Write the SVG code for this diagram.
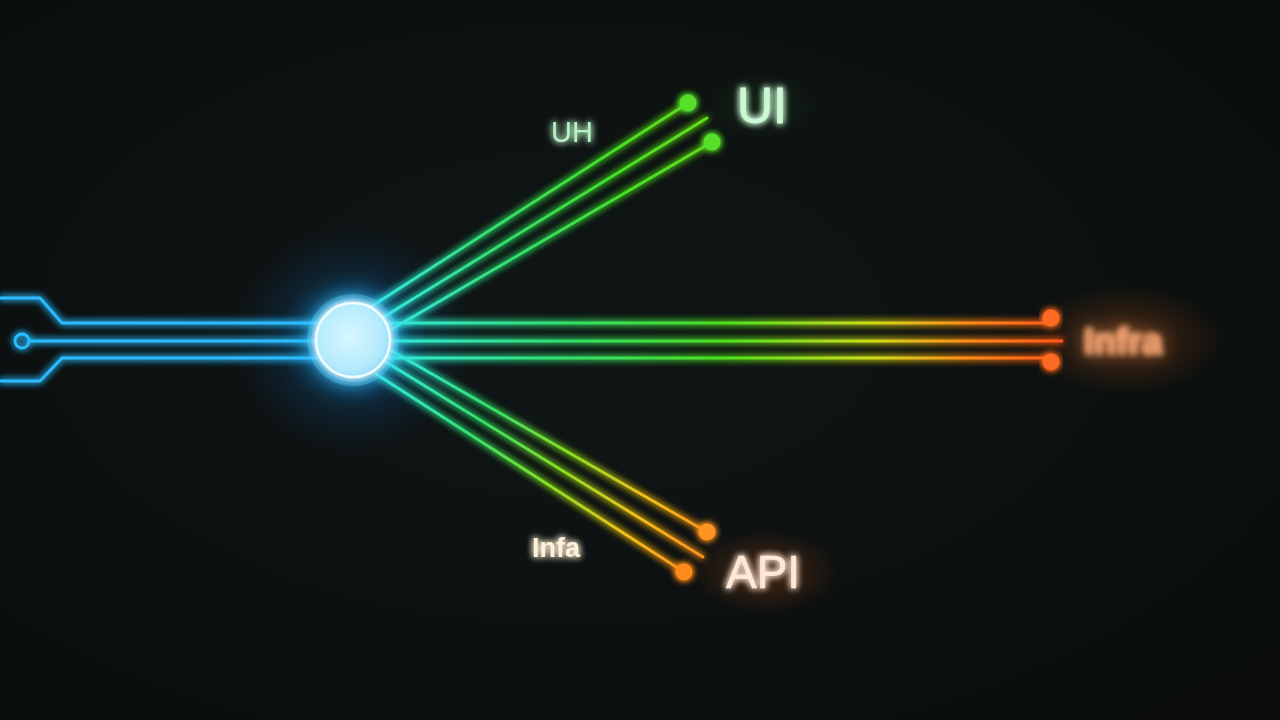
<svg xmlns="http://www.w3.org/2000/svg" width="1280" height="720" viewBox="0 0 1280 720">
  <defs>
    <radialGradient id="bg" cx="0.45" cy="0.45" r="0.75">
      <stop offset="0" stop-color="#101616"/>
      <stop offset="1" stop-color="#0a0c0c"/>
    </radialGradient>
    <radialGradient id="hubHalo" cx="0.5" cy="0.5" r="0.5">
      <stop offset="0" stop-color="#30c0ff" stop-opacity="1"/>
      <stop offset="0.3" stop-color="#1898f0" stop-opacity="0.6"/>
      <stop offset="0.6" stop-color="#0c5a98" stop-opacity="0.22"/>
      <stop offset="1" stop-color="#0a4070" stop-opacity="0"/>
    </radialGradient>
    <radialGradient id="hubFill" cx="0.45" cy="0.45" r="0.6">
      <stop offset="0" stop-color="#d8f7ff"/>
      <stop offset="0.75" stop-color="#b4eafc"/>
      <stop offset="1" stop-color="#90daf6"/>
    </radialGradient>
    <radialGradient id="orangeHalo" cx="0.5" cy="0.5" r="0.5">
      <stop offset="0" stop-color="#ff6a10" stop-opacity="0.25"/>
      <stop offset="1" stop-color="#ff6a10" stop-opacity="0"/>
    </radialGradient>
    <radialGradient id="greenHalo" cx="0.5" cy="0.5" r="0.5">
      <stop offset="0" stop-color="#30c030" stop-opacity="0.12"/>
      <stop offset="1" stop-color="#30c030" stop-opacity="0"/>
    </radialGradient>
    <linearGradient id="gH" gradientUnits="userSpaceOnUse" x1="385" y1="0" x2="1062" y2="0">
      <stop offset="0" stop-color="#30e8e0"/>
      <stop offset="0.25" stop-color="#30e070"/>
      <stop offset="0.5" stop-color="#4ee020"/>
      <stop offset="0.72" stop-color="#d0dc18"/>
      <stop offset="0.86" stop-color="#ff8c18"/>
      <stop offset="1" stop-color="#ff5418"/>
    </linearGradient>
    <linearGradient id="gUp" gradientUnits="userSpaceOnUse" x1="380" y1="315" x2="705" y2="110">
      <stop offset="0" stop-color="#30e8e8"/>
      <stop offset="0.35" stop-color="#30e070"/>
      <stop offset="0.7" stop-color="#44e028"/>
      <stop offset="1" stop-color="#66dc18"/>
    </linearGradient>
    <linearGradient id="gDn" gradientUnits="userSpaceOnUse" x1="380" y1="365" x2="705" y2="565">
      <stop offset="0" stop-color="#30e8e8"/>
      <stop offset="0.3" stop-color="#30e068"/>
      <stop offset="0.55" stop-color="#8ce020"/>
      <stop offset="0.78" stop-color="#f4c018"/>
      <stop offset="1" stop-color="#ff8a1c"/>
    </linearGradient>
    <filter id="glow" x="-20%" y="-20%" width="140%" height="140%">
      <feGaussianBlur in="SourceGraphic" stdDeviation="3.5" result="b"/>
      <feMerge><feMergeNode in="b"/><feMergeNode in="b"/><feMergeNode in="SourceGraphic"/></feMerge>
    </filter>
    <filter id="glowBig" x="-50%" y="-50%" width="200%" height="200%">
      <feGaussianBlur in="SourceGraphic" stdDeviation="7" result="b"/>
      <feMerge><feMergeNode in="b"/><feMergeNode in="SourceGraphic"/></feMerge>
    </filter>
    <filter id="soft" x="-30%" y="-60%" width="160%" height="220%">
      <feGaussianBlur in="SourceGraphic" stdDeviation="3" result="b"/>
      <feGaussianBlur in="SourceGraphic" stdDeviation="9" result="c"/>
      <feMerge><feMergeNode in="c"/><feMergeNode in="b"/><feMergeNode in="b"/></feMerge>
    </filter>
  </defs>
  <style>
    .wire { fill: none; stroke-width: 2.8; stroke-linecap: round; stroke-linejoin: round; }
    .cyan { stroke: #2cbcff; }
    .lbl { font-family: "Liberation Sans", "DejaVu Sans", sans-serif; }
  </style>

  <rect x="0" y="0" width="1280" height="720" fill="url(#bg)"/>

  <!-- halos -->
  <ellipse cx="353" cy="340" rx="120" ry="115" fill="url(#hubHalo)"/>
  <ellipse cx="1125" cy="340" rx="100" ry="55" fill="url(#orangeHalo)"/>
  <ellipse cx="765" cy="572" rx="75" ry="42" fill="url(#orangeHalo)"/>
  <ellipse cx="762" cy="105" rx="60" ry="35" fill="url(#greenHalo)"/>

  <g id="connectors" filter="url(#glow)">
    <!-- left input wires -->
    <polyline class="wire cyan" points="0,298 40,298 62,323 318,323"/>
    <line class="wire cyan" x1="30" y1="341" x2="316" y2="341"/>
    <polyline class="wire cyan" points="0,381 40,381 62,358 318,358"/>
    <circle cx="22" cy="341" r="7" fill="none" stroke="#2cbcff" stroke-width="2.8"/>

    <!-- horizontal to Infra -->
    <line class="wire" stroke="url(#gH)" x1="388" y1="323" x2="1046" y2="323"/>
    <line class="wire" stroke="url(#gH)" x1="390" y1="341" x2="1062" y2="341"/>
    <line class="wire" stroke="url(#gH)" x1="388" y1="358" x2="1046" y2="358"/>

    <!-- upper to UI -->
    <line class="wire" stroke="url(#gUp)" x1="372" y1="306" x2="688" y2="103"/>
    <line class="wire" stroke="url(#gUp)" x1="382" y1="318" x2="707" y2="118"/>
    <line class="wire" stroke="url(#gUp)" x1="392" y1="329" x2="712" y2="142"/>

    <!-- lower to API -->
    <line class="wire" stroke="url(#gDn)" x1="392" y1="351" x2="707" y2="532"/>
    <line class="wire" stroke="url(#gDn)" x1="386" y1="362" x2="703" y2="557"/>
    <line class="wire" stroke="url(#gDn)" x1="376" y1="374" x2="684" y2="572"/>
  </g>

  <g id="hub">
    <circle cx="353" cy="340" r="46" fill="#48d0ff" opacity="0.55" filter="url(#glowBig)"/>
    <circle cx="353" cy="340" r="37" fill="url(#hubFill)" stroke="#eefcff" stroke-width="2.5" filter="url(#glow)"/>
  </g>

  <g id="node-ui">
    <g filter="url(#glow)">
      <circle cx="688" cy="103" r="8.5" fill="#56e02a"/>
      <circle cx="712" cy="142" r="8.5" fill="#56e02a"/>
    </g>
    <text class="lbl" x="737" y="123" font-size="50" fill="#ccf8d4" stroke="#ccf8d4" stroke-width="0.8" filter="url(#glow)">UI</text>
    <text class="lbl" x="551" y="142" font-size="29" fill="#b8f2c4" filter="url(#glow)">UH</text>
  </g>

  <g id="node-infra">
    <g filter="url(#glow)">
      <circle cx="1051" cy="318" r="8.5" fill="#ff6a20"/>
      <circle cx="1051" cy="362" r="8.5" fill="#ff6a20"/>
    </g>
    <text class="lbl" x="1084" y="354" font-size="36" font-weight="bold" fill="#f0a070" filter="url(#soft)">Infra</text>
  </g>

  <g id="node-api">
    <g filter="url(#glow)">
      <circle cx="707" cy="532" r="8.5" fill="#ff9420"/>
      <circle cx="684" cy="572" r="8.5" fill="#ff8a1c"/>
    </g>
    <text class="lbl" x="726" y="588" font-size="46" fill="#ffe8d6" stroke="#ffe8d6" stroke-width="0.6" filter="url(#glow)">API</text>
    <text class="lbl" x="532" y="557" font-size="27" font-weight="bold" fill="#fff2d8" filter="url(#glow)">Infa</text>
  </g>
</svg>
